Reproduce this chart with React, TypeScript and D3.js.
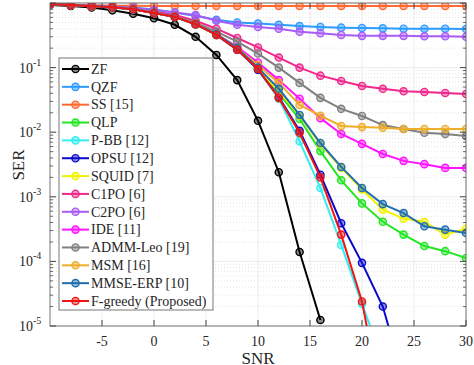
import React from 'react';
import * as d3 from 'd3';

const SNR = [-10, -8, -6, -4, -2, 0, 2, 4, 6, 8, 10, 12, 14, 16, 18, 20, 22, 24, 26, 28, 30];

const NAMES = ['ZF', 'QZF', 'SS [15]', 'QLP', 'P-BB [12]', 'OPSU [12]', 'SQUID [7]', ' C1PO [6]', 'C2PO [6]', 'IDE [11]', 'ADMM-Leo [19]', 'MSM [16]', 'MMSE-ERP [10]', 'F-greedy (Proposed)'];
const COLORS = ['#000000', '#2E9BFF', '#FF6A33', '#22E622', '#33EEF0', '#0A0ACC', '#F2F200', '#F0288C', '#A95CF5', '#FF14FF', '#808080', '#EEAE2A', '#1F6FB0', '#F01414'];

const ZF = [0.93, 0.9, 0.85, 0.77, 0.68, 0.58, 0.46, 0.3, 0.157, 0.064, 0.015, 0.0024, 1.4e-4, 1.24e-5];
const QZF = [0.96, 0.94, 0.92, 0.89, 0.85, 0.79, 0.71, 0.63, 0.55, 0.5, 0.48, 0.46, 0.44, 0.425, 0.415, 0.41, 0.405, 0.4, 0.4, 0.4, 0.395];
const SS = [0.95, 0.93, 0.92, 0.91, 0.91, 0.9, 0.9, 0.9, 0.9, 0.9, 0.9, 0.9, 0.9, 0.9, 0.9, 0.9, 0.9, 0.9, 0.9, 0.9, 0.9];
const QLP = [0.96, 0.93, 0.89, 0.86, 0.8, 0.7, 0.61, 0.47, 0.32, 0.19, 0.095, 0.04, 0.016, 0.0051, 0.0018, 7.9e-4, 4.1e-4, 2.6e-4, 1.73e-4, 1.44e-4, 1.13e-4];
const PBB = [0.96, 0.93, 0.89, 0.86, 0.8, 0.7, 0.61, 0.47, 0.32, 0.19, 0.092, 0.033, 0.0072, 0.00137, 1.8e-4, 2.2e-5, 2.9e-6];
const OPSU = [0.96, 0.93, 0.89, 0.86, 0.8, 0.7, 0.61, 0.47, 0.32, 0.19, 0.093, 0.035, 0.0105, 0.0022, 3.9e-4, 9.5e-5, 2.0e-5, 1.5e-6];
const SQUID = [0.96, 0.93, 0.89, 0.86, 0.8, 0.7, 0.61, 0.47, 0.32, 0.195, 0.097, 0.043, 0.018, 0.0065, 0.0028, 0.0013, 6.3e-4, 4.6e-4, 4.1e-4, 2.6e-4, 3.2e-4];
const C1PO = [0.96, 0.94, 0.91, 0.87, 0.82, 0.74, 0.65, 0.53, 0.4, 0.287, 0.205, 0.143, 0.1, 0.075, 0.062, 0.052, 0.047, 0.043, 0.042, 0.0405, 0.039];
const C2PO = [0.96, 0.94, 0.91, 0.88, 0.84, 0.78, 0.71, 0.65, 0.53, 0.46, 0.425, 0.4, 0.36, 0.34, 0.32, 0.31, 0.31, 0.31, 0.305, 0.305, 0.3];
const IDE = [0.96, 0.93, 0.89, 0.86, 0.8, 0.7, 0.61, 0.47, 0.33, 0.21, 0.12, 0.064, 0.033, 0.0165, 0.0094, 0.0066, 0.0046, 0.0036, 0.0032, 0.0028, 0.0028];
const ADMM = [0.96, 0.93, 0.9, 0.86, 0.81, 0.72, 0.62, 0.49, 0.36, 0.252, 0.165, 0.1, 0.058, 0.034, 0.023, 0.0178, 0.0129, 0.0112, 0.0098, 0.0094, 0.0087];
const MSM = [0.96, 0.93, 0.89, 0.86, 0.8, 0.7, 0.61, 0.47, 0.33, 0.2, 0.11, 0.058, 0.0264, 0.018, 0.0125, 0.012, 0.0117, 0.0112, 0.0112, 0.0112, 0.0112];
const MMSE = [0.96, 0.93, 0.89, 0.86, 0.8, 0.7, 0.61, 0.47, 0.33, 0.2, 0.1, 0.047, 0.0185, 0.0068, 0.0029, 0.00137, 7.7e-4, 5.6e-4, 3.5e-4, 3.1e-4, 2.75e-4];
const FGREEDY = [0.96, 0.93, 0.89, 0.86, 0.8, 0.7, 0.61, 0.47, 0.32, 0.19, 0.095, 0.034, 0.0098, 0.002, 2.6e-4, 2.4e-5, 5e-7];

const SERIES = [ZF, QZF, SS, QLP, PBB, OPSU, SQUID, C1PO, C2PO, IDE, ADMM, MSM, MMSE, FGREEDY];

const X_TICKS = [-5, 0, 5, 10, 15, 20, 25, 30];
const Y_EXP = [0, -1, -2, -3, -4, -5];
const Y_LABELED = [-1, -2, -3, -4, -5];

const W = 474;
const H = 365;
const L = 50, R = 466, T = 3, B = 326;

export default function App() {
  const x = d3.scaleLinear().domain([-10, 30]).range([L, R]);
  const y = d3.scaleLog().domain([1e-5, 1]).range([B, T]);
  const line = d3.line<[number, number]>().x(d => x(d[0])).y(d => y(d[1]));

  const minor: number[] = [];
  for (let e = -5; e < 0; e++) for (let m = 2; m <= 9; m++) minor.push(m * Math.pow(10, e));

  const font = 'Liberation Serif, Times New Roman, serif';
  const legX = 59, legY = 58, legW = 154, legH = 252;
  const rowH = 232 / 13;

  return (
    <svg width={W} height={H} style={{ position: 'absolute', left: 0, top: 0, background: '#fff' }} fontFamily={font}>
      <defs>
        <clipPath id="plot">
          <rect x={L} y={T} width={R - L} height={B - T} />
        </clipPath>
      </defs>
      <rect x={0} y={0} width={W} height={H} fill="#fff" />
      {minor.map((v, i) => (
        <line key={'mg' + i} x1={L} x2={R} y1={y(v)} y2={y(v)} stroke="#d4d4d4" strokeWidth={0.6} strokeDasharray="1,2" />
      ))}
      {Y_EXP.map(e => (
        <line key={'yg' + e} x1={L} x2={R} y1={y(Math.pow(10, e))} y2={y(Math.pow(10, e))} stroke="#e2e2e2" strokeWidth={0.7} />
      ))}
      {X_TICKS.map(t => (
        <line key={'xg' + t} x1={x(t)} x2={x(t)} y1={T} y2={B} stroke="#e2e2e2" strokeWidth={0.7} />
      ))}
      <g clipPath="url(#plot)">
        {SERIES.map((s, k) => {
          const pts: [number, number][] = s.map((v, i) => [SNR[i], v]);
          return (
            <g key={'s' + k}>
              <path d={line(pts) || ''} fill="none" stroke={COLORS[k]} strokeWidth={2} />
              {pts.map((p, i) => (
                <circle key={i} cx={x(p[0])} cy={y(p[1])} r={3.6} fill={COLORS[k]} fillOpacity={0.45} stroke={COLORS[k]} strokeWidth={1.4} />
              ))}
            </g>
          );
        })}
      </g>
      <rect x={L} y={T} width={R - L} height={B - T} fill="none" stroke="#555" strokeWidth={0.8} />
      {Y_EXP.map(e => {
        const yy = y(Math.pow(10, e));
        return (
          <g key={'yt' + e}>
            <line x1={L} x2={L + 6} y1={yy} y2={yy} stroke="#444" />
            <line x1={R} x2={R - 6} y1={yy} y2={yy} stroke="#444" />
          </g>
        );
      })}
      {Y_LABELED.map(e => {
        const yy = y(Math.pow(10, e));
        return (
          <g key={'yl' + e}>
            <text x={33} y={yy + 5} textAnchor="end" fontSize={14} fill="#262626">10</text>
            <text x={33} y={yy - 2} textAnchor="start" fontSize={10} fill="#262626">{String(e)}</text>
          </g>
        );
      })}
      {minor.map((v, i) => (
        <g key={'mt' + i}>
          <line x1={L} x2={L + 3} y1={y(v)} y2={y(v)} stroke="#444" strokeWidth={0.8} />
          <line x1={R} x2={R - 3} y1={y(v)} y2={y(v)} stroke="#444" strokeWidth={0.8} />
        </g>
      ))}
      {X_TICKS.map(t => (
        <g key={'xt' + t}>
          <line x1={x(t)} x2={x(t)} y1={B} y2={B - 6} stroke="#444" />
          <line x1={x(t)} x2={x(t)} y1={T} y2={T + 6} stroke="#444" />
          <text x={x(t)} y={B + 20} textAnchor="middle" fontSize={14} fill="#262626">{t < 0 ? '-' + Math.abs(t) : String(t)}</text>
        </g>
      ))}
      <text x={(L + R) / 2} y={364} textAnchor="middle" fontSize={17} fill="#262626">SNR</text>
      <text transform={`translate(24,165) rotate(-90)`} textAnchor="middle" fontSize={17} fill="#262626">SER</text>
      <rect x={legX} y={legY} width={legW} height={legH} fill="#fff" stroke="#777" strokeWidth={1} />
      {NAMES.map((n, k) => {
        const yy = 69 + k * rowH;
        return (
          <g key={'lg' + k}>
            <line x1={62} x2={89} y1={yy} y2={yy} stroke={COLORS[k]} strokeWidth={2} />
            <circle cx={75.5} cy={yy} r={3.6} fill={COLORS[k]} fillOpacity={0.45} stroke={COLORS[k]} strokeWidth={1.4} />
            <text x={91} y={yy + 4.8} fontSize={14} fill="#262626">{n}</text>
          </g>
        );
      })}
    </svg>
  );
}
